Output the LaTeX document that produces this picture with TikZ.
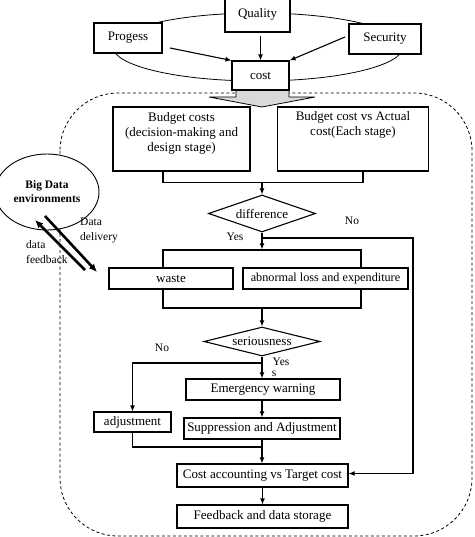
\documentclass[tikz,border=0pt]{standalone}
\usepackage{fontspec}
\setmainfont{Liberation Serif}
\usetikzlibrary{arrows.meta,shapes.geometric,positioning}

\begin{document}
\begin{tikzpicture}[x=1pt, y=-1pt, font=\fontsize{11.5}{15}\selectfont,
        box/.style={draw, line width=1.1pt, fill=white, inner sep=0pt, font=\fontsize{13}{15}\selectfont},
        decision/.style={diamond, draw, line width=1.1pt, fill=white, inner sep=0pt, font=\fontsize{13}{15}\selectfont},
        flow/.style={line width=1.1pt, -{Latex[length=6pt, width=5pt]}},
        link/.style={line width=1.1pt},
        bigflow/.style={line width=2.6pt, -{Latex[length=8pt, width=7pt]}}]
    \clip (0,0) rectangle (474,537);
    \draw [line width=0.8pt, dash pattern=on 3pt off 2.5pt, rounded corners=58] (60,93) rectangle (472,536);
    \draw [line width=0.8pt] (258,47) ellipse [x radius=145, y radius=34];
    \node[box, minimum width=65, minimum height=36] (quality) at (257.5,14) {Quality};
    \node[box, minimum width=68, minimum height=30] (progess) at (128,38) {Progess};
    \node[box, minimum width=72, minimum height=30] (security) at (385,39) {Security};
    \fill [gray!30, draw=black, line width=0.8pt] (236,90) -- (236,97) -- (209,97) -- (262,107)
        -- (315,97) -- (289,97) -- (289,90);
    \node[box, minimum width=57, minimum height=29] (cost) at (260.5,75.5) {cost};
    \coordinate (pg) at (170,48);
    \coordinate (sc) at (345,37);
    \draw [flow] (pg) -- (cost.north west);
    \draw [flow] (sc) -- (cost.north east);
    \draw [flow, shorten <=3pt] (quality.south -| cost.north) -- (cost.north);
    \node[box, minimum width=137, minimum height=64] (budget) at (181.5,139) {};
    \node[below=2pt of budget.north, align=center, font=\fontsize{13}{15}\selectfont] {Budget costs\\(decision-making and\\design stage)};
    \node[box, minimum width=151, minimum height=64] (actual) at (353,139) {};
    \node[below=1pt of actual.north, align=center, font=\fontsize{13}{15}\selectfont] {Budget cost vs Actual\\cost(Each stage)};
    \draw [link] ([xshift=-18.5pt]budget.south) -- ++(0,11) coordinate (join1) -| ([xshift=10pt]actual.south);
    \node[decision, aspect=2.9, minimum width=107, minimum height=37] (diff) at (262,213.5) {difference};
    \draw [flow] (join1 -| diff.north) -- (diff.north);
    \node at (352,221) {No};
    \node at (235,237) {Yes};
    \node[draw, line width=1.1pt, minimum width=198, minimum height=58] (group) at (262,279) {};
    \node[box, minimum width=124, minimum height=21] (waste) at (171,278.5) {waste};
    \node[box, minimum width=165, minimum height=21, font=\fontsize{12.2}{15}\selectfont] (abnormal) at (325.5,278.5) {abnormal loss and expenditure};
    \draw [flow] (diff.south) -- (group.north);
    \coordinate (nojoin) at (262,238);
    \coordinate (noturn) at (413,238);
    \node[decision, aspect=4, minimum width=116, minimum height=29] (serious) at (262,341.5) {seriousness};
    \draw [flow] (group.south) -- (serious.north);
    \node at (162,348) {No};
    \node at (281,362) {Yes};
    \node at (274,374) {s};
    \node[box, minimum width=154, minimum height=21] (warning) at (263,389.5) {Emergency warning};
    \node[box, minimum width=156, minimum height=21] (suppress) at (262,428.5) {Suppression and Adjustment};
    \node[box, minimum width=77, minimum height=20] (adjust) at (132.5,422) {adjustment};
    \node[box, minimum width=171, minimum height=23] (account) at (262.5,475.5) {Cost accounting vs Target cost};
    \node[box, minimum width=171, minimum height=23] (feedback) at (262.5,516.5) {Feedback and data storage};
    \draw [flow] (nojoin) -- (noturn) |- ([yshift=2pt]account.east);
    \draw [flow] (serious.south) -- (serious.south |- warning.north);
    \coordinate (sjoin) at (262,363);
    \draw [flow] (sjoin) -| (adjust.north);
    \draw [flow] (warning.south -| suppress.north) -- (suppress.north);
    \coordinate (mjoin) at (262,447);
    \draw [link] (adjust.south) |- (mjoin);
    \draw [flow] (suppress.south) -- (suppress.south |- account.north);
    \draw [flow] (account.south) -- (account.south |- feedback.north);
    \node[ellipse, draw, line width=0.9pt, fill=white, minimum width=90, minimum height=76, align=center,
        font=\fontsize{11.5}{14}\selectfont\bfseries] (bigdata) at (47,192) {Big Data\\environments};
    \coordinate (dd1) at (45,216);
    \coordinate (dd2) at (97,272);
    \coordinate (fb1) at (85,270);
    \coordinate (fb2) at (35,220);
    \draw [bigflow] (dd1) -- (dd2);
    \draw [bigflow] (fb1) -- (fb2);
    \node[anchor=west, align=left, inner sep=0pt] at (80,230) {Data\\delivery};
    \node[anchor=west, align=left, inner sep=0pt] at (26,252) {data\\feedback};
\end{tikzpicture}
\end{document}
